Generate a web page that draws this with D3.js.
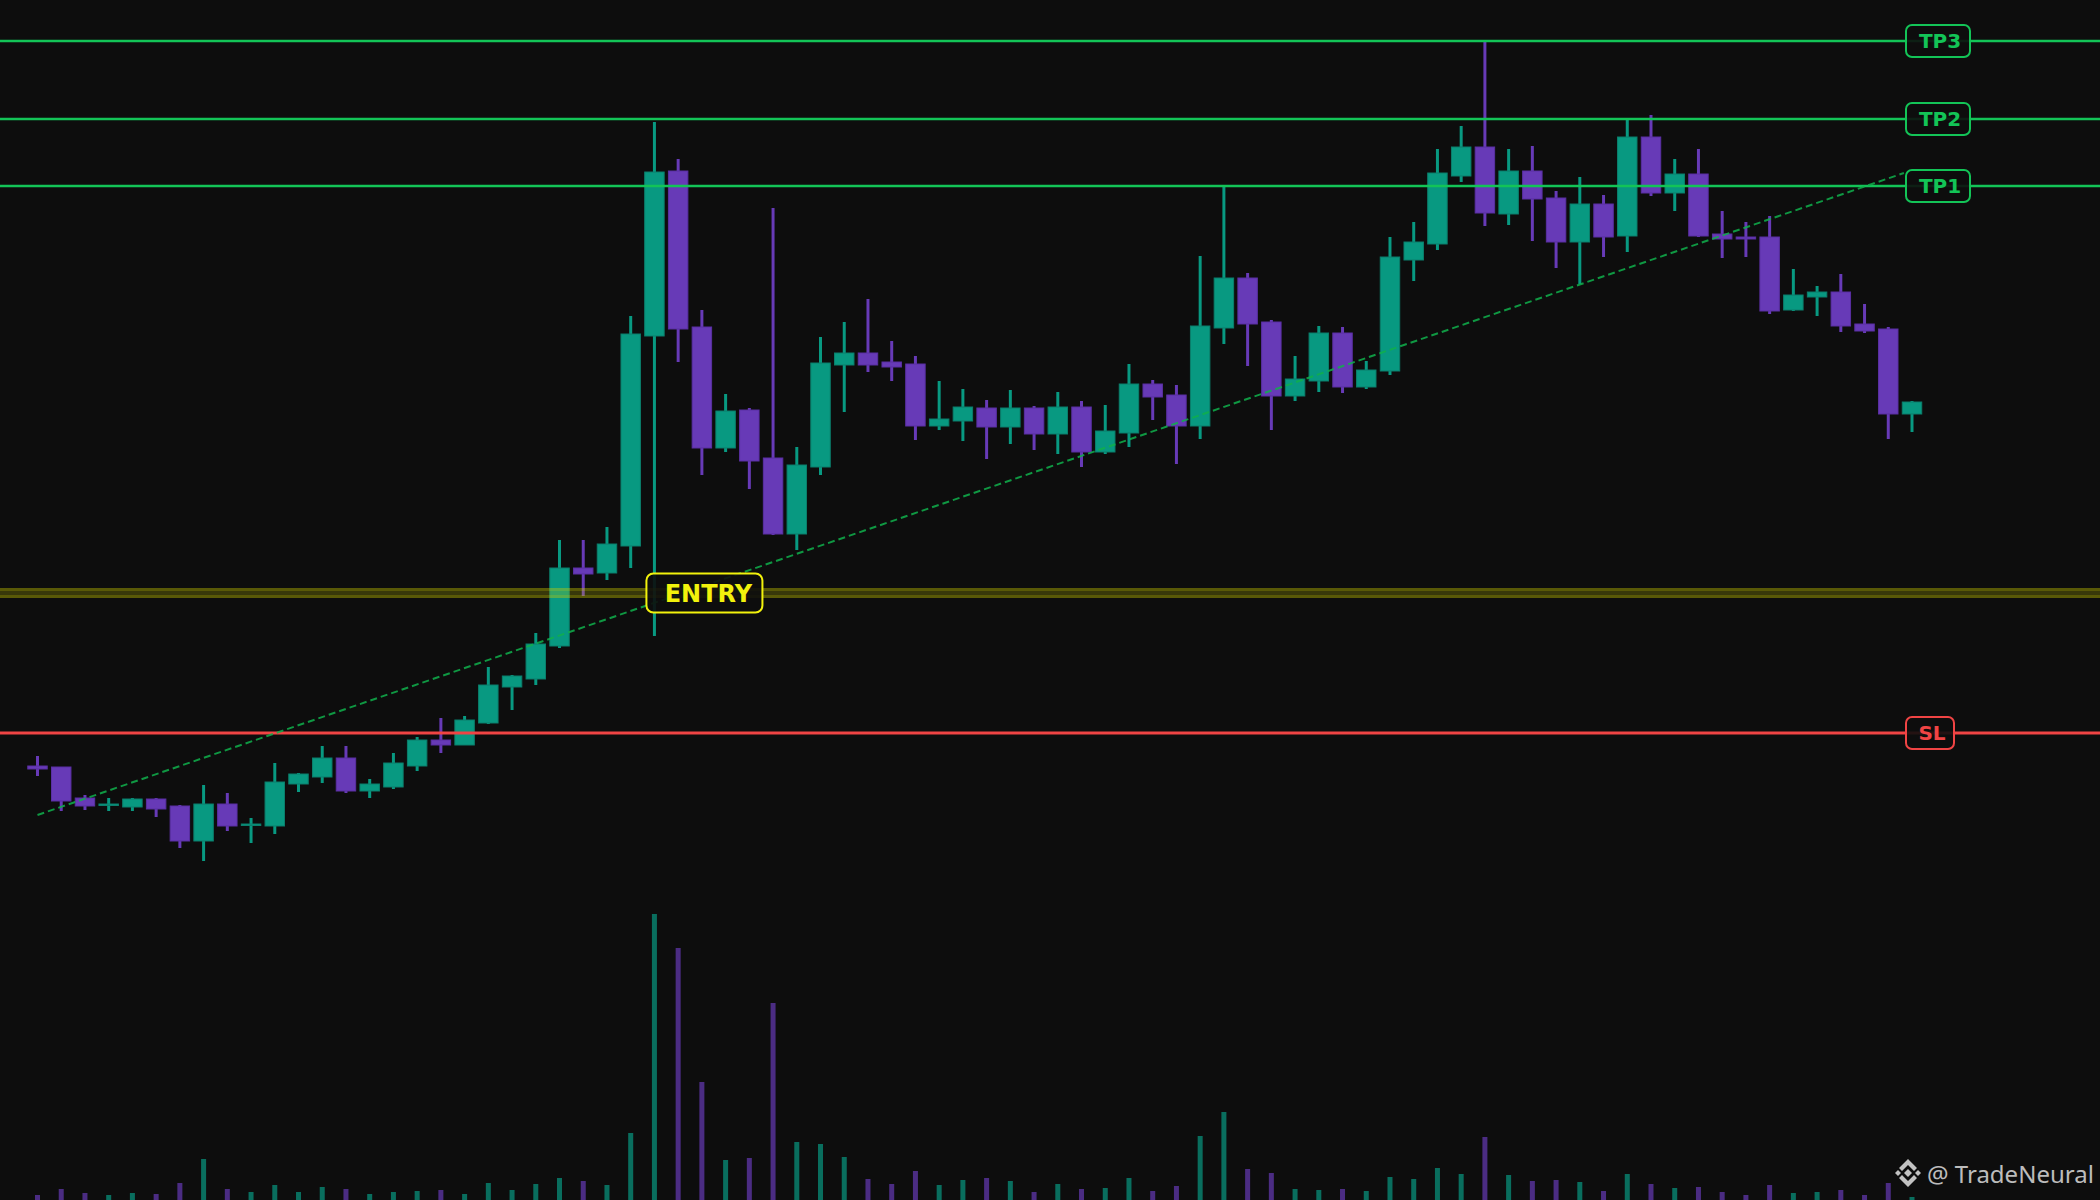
<!DOCTYPE html>
<html><head><meta charset="utf-8">
<script src="https://cdn.jsdelivr.net/npm/d3@7"></script>
<style>html,body{margin:0;padding:0;background:#0d0d0d;overflow:hidden}</style>
</head><body>
<svg id="c" width="2100" height="1200"></svg>
<script>
// ---- data (prices in arbitrary chart units, volumes in arbitrary units) ----
const opens  = [23.4,23.3,20.2,19.5,19.3,20.1,19.4,15.9,19.6,17.5,17.4,21.6,22.3,24.2,20.9,21.3,23.4,26.0,25.5,27.7,
                31.3,32.1,35.4,43.2,42.7,45.4,66.4,82.9,67.3,55.2,59.0,54.2,46.6,53.3,63.5,64.7,63.8,63.6,57.4,57.9,
                59.2,57.3,59.2,56.6,59.3,54.8,56.7,61.6,60.5,57.4,67.2,72.2,67.8,60.4,61.9,66.7,61.3,62.9,74.0,75.6,
                82.4,85.3,78.6,82.9,80.2,75.8,79.6,76.4,86.3,80.7,82.6,76.6,76.3,76.3,69.0,70.3,70.8,67.6,67.1,58.6];
const highs  = [24.4,23.3,20.5,20.2,20.2,20.2,19.5,21.5,20.7,18.2,23.7,22.7,25.4,25.4,22.1,24.7,26.3,28.2,28.4,33.3,
                32.5,36.7,46.0,46.0,47.3,68.4,87.8,84.1,69.0,60.6,59.2,79.2,55.3,66.3,67.8,70.1,65.9,64.4,61.9,61.1,
                60.0,61.0,59.4,60.8,59.9,59.5,63.6,62.0,61.5,74.4,81.4,72.7,68.0,64.4,67.4,67.3,63.9,76.3,77.8,85.1,
                87.4,95.9,85.1,85.4,80.9,82.3,80.5,88.0,88.5,84.1,85.1,78.9,77.8,78.4,73.1,71.4,72.6,69.6,67.3,59.9];
const lows   = [22.4,18.9,19.0,18.9,18.9,18.3,15.2,13.9,16.9,15.7,16.6,20.8,21.7,20.7,20.2,21.1,22.9,24.7,25.5,27.6,
                29.0,31.5,35.2,40.4,42.0,43.2,36.4,63.8,52.5,54.8,51.1,46.5,45.0,52.5,58.8,62.8,61.9,56.0,57.0,55.9,
                54.1,55.6,55.0,54.6,53.3,54.6,55.3,58.0,53.6,56.1,65.6,63.4,57.0,59.9,60.8,60.7,61.1,62.5,71.9,75.0,
                81.8,77.4,77.5,75.9,73.2,71.6,74.3,74.8,80.4,78.9,76.3,74.2,74.3,68.6,68.9,68.4,66.8,66.7,56.1,56.8];
const closes = [23.1,19.9,19.4,19.6,20.1,19.1,15.9,19.6,17.4,17.6,21.8,22.6,24.2,20.9,21.6,23.7,26.0,25.5,28.0,31.5,
                32.4,35.6,43.2,42.6,45.6,66.6,82.8,67.1,55.2,58.9,53.9,46.6,53.5,63.7,64.7,63.5,63.3,57.4,58.1,59.3,
                57.3,59.2,56.6,59.3,54.8,56.9,61.6,60.3,57.4,67.4,72.2,67.6,60.4,62.1,66.7,61.3,63.0,74.3,75.8,82.7,
                85.3,78.7,82.9,80.1,75.8,79.6,76.3,86.3,80.7,82.6,76.4,76.1,76.1,68.9,70.5,70.8,67.4,66.9,58.6,59.8];
const volumes = [50,110,70,50,70,60,170,410,110,80,150,80,130,110,60,80,90,100,60,170,
                 100,160,220,190,150,670,2860,2520,1180,400,420,1970,580,560,430,210,160,290,150,200,
                 220,190,80,160,110,120,220,90,140,640,880,310,270,110,100,110,90,230,210,320,
                 260,630,250,190,200,180,90,260,160,120,130,80,50,150,70,80,100,50,170,30];

const levelNames  = ["TP3","TP2","TP1","ENTRY","SL"];
const levelPrices = [95.9, 88.1, 81.4, 40.7, 26.7];
const trendIndex  = [0, 78.66];
const trendPrice  = [18.5, 82.7];
const entryIndex  = 26;
const watermarkText = "@ TradeNeural";

// ---- setup ----
const W = 2100, H = 1200;
const UP = "#089981", UP_STROKE = "#0b7f6c";
const DN = "#673ab7", DN_STROKE = "#5a2fa3";
const TPC = "#13c457", SLC = "#f04444", ENC = "#f2f20c";

const svg = d3.select("#c");
svg.append("rect").attr("width", W).attr("height", H).attr("fill", "#0d0d0d");

const n = opens.length;
const x = d3.scaleLinear().domain([0, n - 1]).range([37.5, 1912]);
const step = x(1) - x(0);
const bodyW = step * 0.82;
const y = d3.scaleLinear().domain([0, 100]).range([1000, 0]);
const yv = d3.scaleLinear().domain([0, 3000]).range([H, 900]);

const data = d3.range(n).map(i => ({i, o: opens[i], h: highs[i], l: lows[i], c: closes[i], v: volumes[i], up: closes[i] >= opens[i]}));

// ---- volume ----
svg.append("g").selectAll("rect").data(data).join("rect")
  .attr("x", d => x(d.i) - 2.5).attr("width", 5)
  .attr("y", d => yv(d.v)).attr("height", d => yv(0) - yv(d.v))
  .attr("fill", d => d.up ? UP : DN).attr("opacity", 0.7);

// ---- candles ----
const cg = svg.append("g");
cg.selectAll("line").data(data).join("line")
  .attr("x1", d => x(d.i)).attr("x2", d => x(d.i))
  .attr("y1", d => y(d.h)).attr("y2", d => y(d.l))
  .attr("stroke", d => d.up ? UP : DN).attr("stroke-width", 3);
cg.selectAll("rect").data(data).join("rect")
  .attr("x", d => x(d.i) - bodyW / 2).attr("width", bodyW)
  .attr("y", d => y(Math.max(d.o, d.c)))
  .attr("height", d => Math.max(1.5, Math.abs(y(d.o) - y(d.c))))
  .attr("fill", d => d.up ? UP : DN)
  .attr("stroke", d => d.up ? UP_STROKE : DN_STROKE).attr("stroke-width", 1);

// ---- level lines ----
const lg = svg.append("g");
levelNames.forEach((name, k) => {
  const yy = y(levelPrices[k]);
  if (name === "ENTRY") {
    lg.append("line").attr("x1", 0).attr("x2", W).attr("y1", yy).attr("y2", yy)
      .attr("stroke", "rgba(210,210,0,0.22)").attr("stroke-width", 10);
    [-3.5, 3.5].forEach(o => lg.append("line").attr("x1", 0).attr("x2", W).attr("y1", yy + o).attr("y2", yy + o)
      .attr("stroke", "rgba(210,210,0,0.22)").attr("stroke-width", 3));
  } else {
    lg.append("line").attr("x1", 0).attr("x2", W).attr("y1", yy).attr("y2", yy)
      .attr("stroke", name === "SL" ? SLC : TPC).attr("stroke-width", name === "SL" ? 3 : 2.5);
  }
});

// ---- trend line ----
svg.append("line")
  .attr("x1", x(trendIndex[0])).attr("y1", y(trendPrice[0]))
  .attr("x2", x(trendIndex[1])).attr("y2", y(trendPrice[1]))
  .attr("stroke", "#10b04c").attr("stroke-width", 2).attr("stroke-dasharray", "7,4").attr("opacity", 0.85);

// ---- labels ----
const labG = svg.append("g").attr("font-family", "'DejaVu Sans', sans-serif").attr("font-weight", "bold");
levelNames.forEach((name, k) => {
  const yy = y(levelPrices[k]);
  if (name === "ENTRY") {
    const bx = x(entryIndex) - 8, bw = 116, bh = 39;
    labG.append("rect").attr("x", bx).attr("y", yy - bh / 2).attr("width", bw).attr("height", bh).attr("rx", 7)
      .attr("fill", "rgba(13,13,13,0.9)").attr("stroke", ENC).attr("stroke-width", 2);
    labG.append("text").attr("x", bx + bw / 2 + 4).attr("y", yy + 1).attr("text-anchor", "middle")
      .attr("dominant-baseline", "central").attr("font-size", 24).attr("fill", ENC).text(name);
  } else {
    const col = name === "SL" ? SLC : TPC;
    const bw = name === "SL" ? 48 : 64, bh = 32, bx = 1906;
    labG.append("rect").attr("x", bx).attr("y", yy - bh / 2).attr("width", bw).attr("height", bh).attr("rx", 6)
      .attr("fill", "rgba(13,13,13,0.9)").attr("stroke", col).attr("stroke-width", 2);
    labG.append("text").attr("x", bx + bw / 2 + 2).attr("y", yy).attr("text-anchor", "middle")
      .attr("dominant-baseline", "central").attr("font-size", 20).attr("fill", col).text(name);
  }
});

// ---- watermark ----
const wm = svg.append("g").attr("transform", "translate(1908,1173)").attr("fill", "#d6d6d6").attr("opacity", 0.9);
wm.append("path").attr("d", "M0,-4 L4,0 L0,4 L-4,0 Z");
wm.append("path").attr("d", "M-10,-3 L-7,0 L-10,3 L-13,0 Z");
wm.append("path").attr("d", "M10,-3 L13,0 L10,3 L7,0 Z");
wm.append("path").attr("d", "M-9,-5 L0,-14 L9,-5 L6,-2 L0,-8 L-6,-2 Z");
wm.append("path").attr("d", "M-9,5 L0,14 L9,5 L6,2 L0,8 L-6,2 Z");
svg.append("text").attr("x", 1927).attr("y", 1183)
  .attr("font-family", "'Noto Sans', sans-serif").attr("font-size", 24)
  .attr("fill", "#d0d0d0").attr("opacity", 0.9).text(watermarkText);
</script>
</body></html>
